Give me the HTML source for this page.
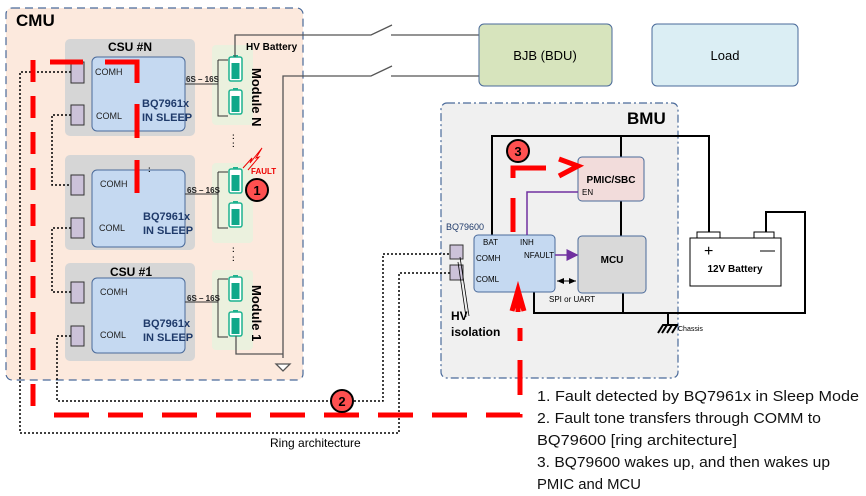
<!DOCTYPE html>
<html><head><meta charset="utf-8"><style>
html,body{margin:0;padding:0;background:#fff}
svg{display:block}
text{font-family:"Liberation Sans",sans-serif}
</style></head><body>
<svg width="866" height="496" viewBox="0 0 866 496" xmlns="http://www.w3.org/2000/svg">
<defs>
<g id="batt"><rect x="0" y="0" width="13" height="24" rx="2" fill="#fff" stroke="#1db28f" stroke-width="1.5"/><rect x="4" y="-2" width="5" height="2" fill="#1db28f"/><rect x="2.5" y="6" width="8" height="16" fill="#10a88a"/></g>
<marker id="pa" markerWidth="8" markerHeight="8" refX="7" refY="4" orient="auto"><path d="M0,0 L8,4 L0,8z" fill="#7030a0"/></marker>
<marker id="ba" markerWidth="8" markerHeight="8" refX="7" refY="4" orient="auto-start-reverse"><path d="M0,1 L7,4 L0,7z" fill="#000"/></marker>
</defs>
<rect x="6" y="8" width="297" height="372" rx="6" fill="#fce9dd" stroke="#4a6a9a" stroke-width="1.2" stroke-dasharray="8,5"/>
<text x="16" y="26" font-size="17" font-weight="bold">CMU</text>
<g stroke="none">
<rect x="65" y="39" width="130" height="97" rx="5" fill="#d6d6d6"/>
<rect x="65" y="155" width="130" height="95" rx="5" fill="#d6d6d6"/>
<rect x="65" y="263" width="130" height="98" rx="5" fill="#d6d6d6"/>
</g>
<g fill="#c5d9f1" stroke="#4a6a9a" stroke-width="1">
<rect x="92" y="57" width="93" height="74" rx="5"/>
<rect x="92" y="170" width="93" height="77" rx="5"/>
<rect x="92" y="278" width="93" height="75" rx="5"/>
</g>
<g fill="#ccc2d9" stroke="#333" stroke-width="1">
<rect x="71" y="62" width="13" height="21"/><rect x="71" y="105" width="13" height="20"/>
<rect x="71" y="175" width="13" height="20"/><rect x="71" y="218" width="13" height="20"/>
<rect x="71" y="282" width="13" height="21"/><rect x="71" y="326" width="13" height="20"/>
</g>
<text x="108" y="51" font-size="12" font-weight="bold">CSU #N</text>
<text x="110" y="276" font-size="12" font-weight="bold">CSU #1</text>
<g font-size="9" fill="#222">
<text x="95" y="75">COMH</text><text x="96" y="119">COML</text>
<text x="100" y="187">COMH</text><text x="99" y="231">COML</text>
<text x="100" y="295">COMH</text><text x="100" y="338">COML</text>
</g>
<g font-size="11" font-weight="bold" fill="#1f3a6a">
<text x="142" y="107">BQ7961x</text><text x="142" y="121">IN SLEEP</text>
<text x="143" y="220">BQ7961x</text><text x="143" y="234">IN SLEEP</text>
<text x="143" y="327">BQ7961x</text><text x="143" y="341">IN SLEEP</text>
</g>
<g fill="#000" font-size="8" font-weight="bold"><text x="148" y="172">:</text><text x="148" y="271">:</text><text x="232" y="139">:</text><text x="232" y="147">:</text><text x="232" y="252">:</text><text x="232" y="261">:</text></g>
<g fill="#ebf1de"><rect x="212" y="45" width="41" height="80" rx="4"/><rect x="212" y="163" width="41" height="80" rx="4"/><rect x="212" y="270" width="41" height="80" rx="4"/></g>
<g stroke="#333" stroke-width="1" fill="none">
<path d="M185 84 H218"/><path d="M218 60 V116 H228 M218 60 H228"/>
<path d="M185 194 H218"/><path d="M218 172 V228 H228 M218 172 H228"/>
<path d="M185 302 H218"/><path d="M218 279 V337 H228 M218 279 H228"/>
</g>
<use href="#batt" x="229" y="57"/><use href="#batt" x="229" y="90"/>
<use href="#batt" x="229" y="169"/><use href="#batt" x="229" y="203"/>
<use href="#batt" x="229" y="277"/><use href="#batt" x="229" y="312"/>
<g font-size="8" font-weight="bold" fill="#222"><text x="186" y="82">6S – 16S</text><text x="187" y="193">6S – 16S</text><text x="187" y="301">6S – 16S</text></g>
<text transform="translate(252,68) rotate(90)" font-size="13" font-weight="bold">Module N</text>
<text transform="translate(252,285) rotate(90)" font-size="13" font-weight="bold">Module 1</text>
<text x="246" y="50" font-size="10" font-weight="bold">HV Battery</text>
<path d="M243 168 L252 158 L250 163 L262 148 L256 158 L259 157 L248 170" fill="none" stroke="#e00" stroke-width="1"/>
<text x="251" y="174" font-size="8" font-weight="bold" fill="#e00">FAULT</text>
<g stroke="#555" stroke-width="1.3" fill="none">
<path d="M235 57 V35 H371 L392 25 M391 35 H480"/>
<path d="M283 358 V76 H371 L392 66 M391 76 H480"/>
<path d="M236 336 V354 H283"/>
<path d="M276 364 H290 L283 371 Z" fill="#fff"/>
</g>
<rect x="479" y="24" width="133" height="62" rx="5" fill="#d7e4bd" stroke="#4a6a9a"/>
<text x="545" y="60" font-size="13" text-anchor="middle">BJB (BDU)</text>
<rect x="652" y="24" width="146" height="62" rx="5" fill="#dbeef4" stroke="#4a6a9a"/>
<text x="725" y="60" font-size="13" text-anchor="middle">Load</text>
<rect x="441" y="103" width="237" height="275" rx="6" fill="#f0f0f0" stroke="#4a6a9a" stroke-width="1.2" stroke-dasharray="8,3,2,3"/>
<text x="627" y="124" font-size="17" font-weight="bold">BMU</text>
<g stroke="#000" stroke-width="2" fill="none">
<path d="M492 235 V136 H709 V234"/>
<path d="M621 136 V157 M621 201 V236"/>
<path d="M534 292 V313 H805 V212 H766 V233 M623 293 V313"/>
<path d="M668 313 V325 M658 333 L663 325 H678 M662 333 L667 325 M667 333 L672 325 M672 333 L677 325"/>
</g>
<text x="678" y="331" font-size="7">Chassis</text>
<rect x="690" y="238" width="91" height="48" fill="#fff" stroke="#000"/>
<rect x="697" y="232" width="23" height="6" fill="#fff" stroke="#000"/><rect x="754" y="232" width="20" height="6" fill="#fff" stroke="#000"/>
<text x="704" y="256" font-size="16">+</text><path d="M760 251 H775" stroke="#000"/>
<text x="735" y="272" font-size="10" font-weight="bold" text-anchor="middle">12V Battery</text>
<rect x="578" y="157" width="66" height="44" rx="4" fill="#f2dcdb" stroke="#4a6a9a"/>
<text x="611" y="183" font-size="10" font-weight="bold" text-anchor="middle">PMIC/SBC</text>
<text x="582" y="195" font-size="8">EN</text>
<rect x="578" y="236" width="68" height="57" rx="4" fill="#d9d9d9" stroke="#4a6a9a"/>
<text x="612" y="263" font-size="10" font-weight="bold" text-anchor="middle">MCU</text>
<rect x="474" y="235" width="81" height="57" rx="4" fill="#c5d9f1" stroke="#4a6a9a"/>
<g font-size="8"><text x="483" y="245">BAT</text><text x="520" y="245">INH</text><text x="476" y="261">COMH</text><text x="524" y="258">NFAULT</text><text x="476" y="282">COML</text><text x="549" y="302">SPI or UART</text></g>
<text x="446" y="230" font-size="9" fill="#1f3a6a">BQ79600</text>
<path d="M578 192 H527 V235" stroke="#7030a0" stroke-width="1.5" fill="none"/>
<path d="M555 255 H577" stroke="#7030a0" stroke-width="1.5" marker-end="url(#pa)"/>
<path d="M557 281 H576" stroke="#000" stroke-width="1" marker-end="url(#ba)" marker-start="url(#ba)"/>
<g fill="#ccc2d9" stroke="#333"><rect x="450" y="245" width="13" height="14"/><rect x="450" y="265" width="13" height="15"/></g>
<path d="M460 257 L469 316 M458 262 L466 317" stroke="#000" stroke-width="0.8"/>
<text x="451" y="320" font-size="12" font-weight="bold">HV</text>
<text x="451" y="336" font-size="12" font-weight="bold">isolation</text>
<g stroke="#000" stroke-width="1.5" stroke-dasharray="2,2" fill="none">
<path d="M71 72 H20 V433 H399 V273 H450"/>
<path d="M71 115 H52 V185 H71"/>
<path d="M71 228 H52 V292 H71"/>
<path d="M71 336 H57 V401 H383 V254 H450"/>
</g>
<text x="270" y="447" font-size="12">Ring architecture</text>
<g stroke="#ff0000" stroke-width="5" fill="none" stroke-linecap="butt">
<path d="M33 60 V410" stroke-dasharray="22,14"/>
<path d="M50 62 H83 M105 62 H137 V83 M137 104 V138 M137 160 V193"/>
<path d="M54 415 H520 V328" stroke-dasharray="35,19"/>
<path d="M518 312 V290 M512 311 L518 290 L524 311"/>
<path d="M513 232 V198 M513 178 V168 H546 M559 159 L578 166 L559 176"/>
</g>
<g stroke="#000" stroke-width="2" fill="#ff5050">
<circle cx="257" cy="190" r="11"/><circle cx="342" cy="401" r="11"/><circle cx="518" cy="151" r="11"/>
</g>
<g font-size="13" font-weight="bold" text-anchor="middle"><text x="257" y="195">1</text><text x="342" y="406">2</text><text x="518" y="156">3</text></g>
<g font-size="15" fill="#111">
<text x="537" y="401" textLength="322" lengthAdjust="spacingAndGlyphs">1. Fault detected by BQ7961x in Sleep Mode</text>
<text x="537" y="423" textLength="284" lengthAdjust="spacingAndGlyphs">2. Fault tone transfers through COMM to</text>
<text x="537" y="445" textLength="200" lengthAdjust="spacingAndGlyphs">BQ79600 [ring architecture]</text>
<text x="537" y="467" textLength="293" lengthAdjust="spacingAndGlyphs">3. BQ79600 wakes up, and then wakes up</text>
<text x="537" y="489" textLength="104" lengthAdjust="spacingAndGlyphs">PMIC and MCU</text>
</g>
</svg>
</body></html>
